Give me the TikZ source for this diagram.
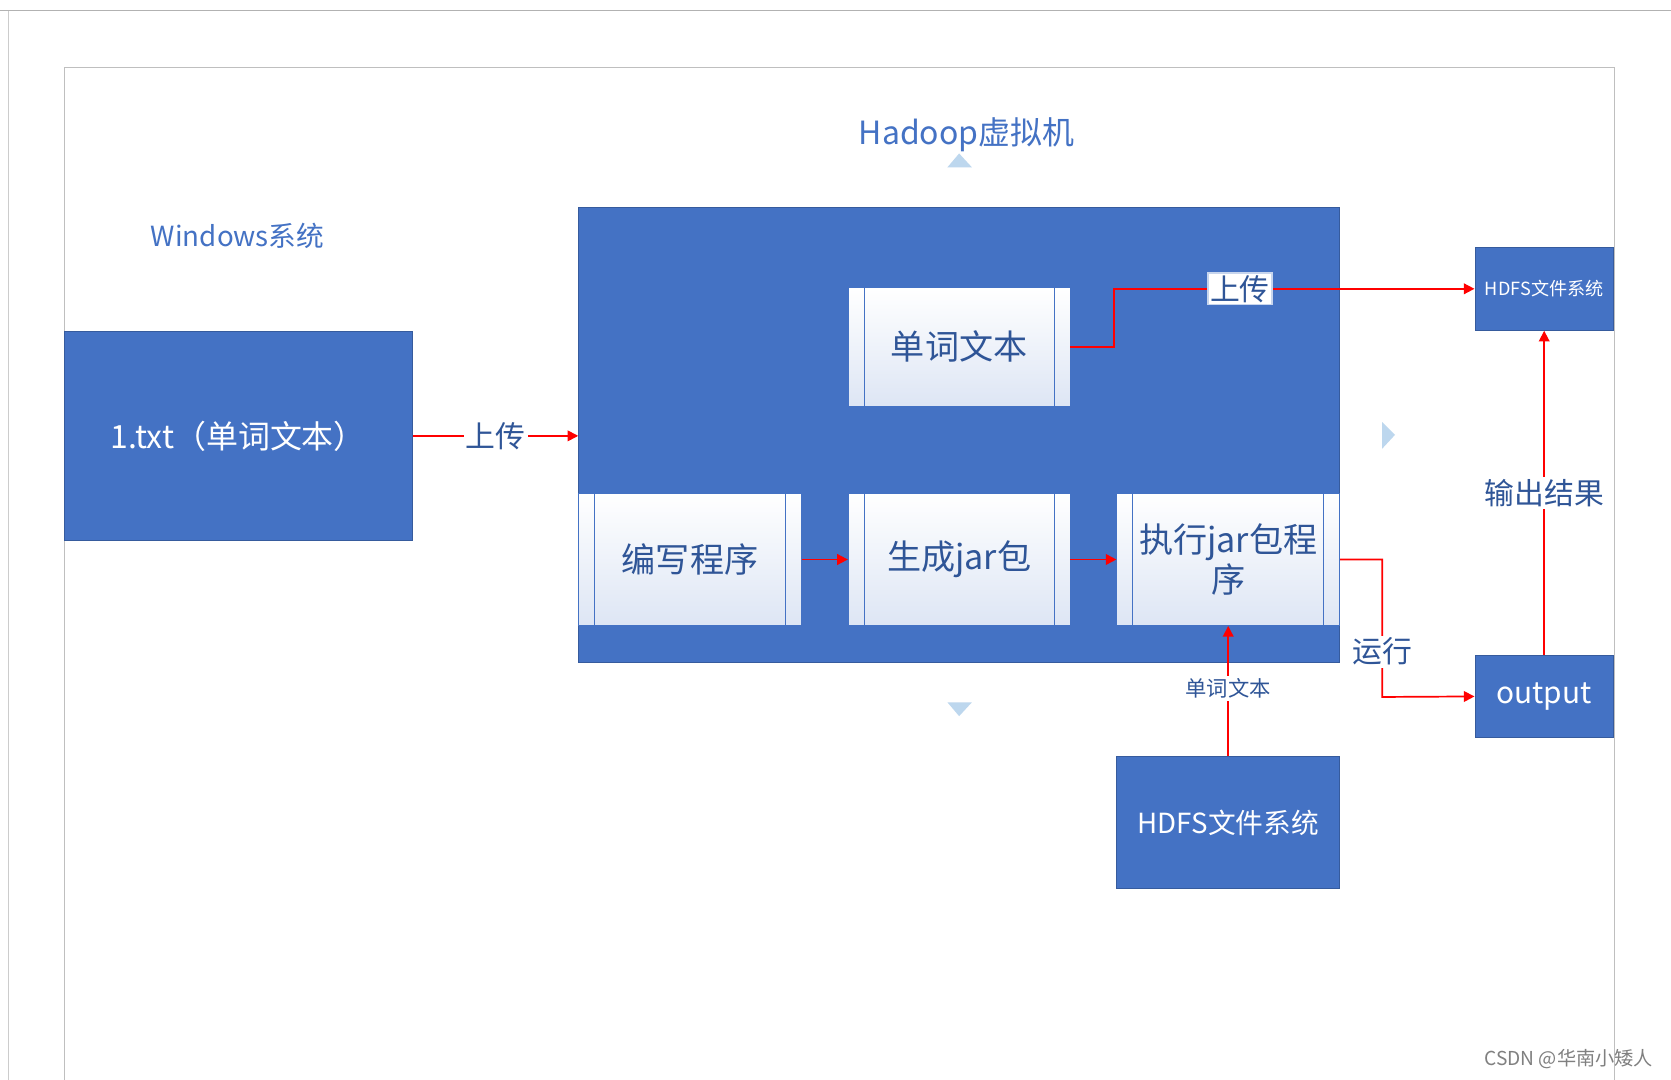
\documentclass[tikz,border=0pt]{standalone}
\usepackage{fontspec}
\setmainfont{Noto Sans CJK SC}
\usetikzlibrary{arrows.meta}
\definecolor{bl}{HTML}{4472C4}
\definecolor{tx}{HTML}{2F5597}
\definecolor{lb}{HTML}{BDD7EE}
\begin{document}
\begin{tikzpicture}[x=0.5pt,y=-0.5pt,
  blk/.style={draw=bl!80!black,fill=bl,text=white,inner sep=0,line width=0.4pt},
  proc/.style={draw=bl,top color=white,bottom color=bl!18,text=tx,inner sep=0,font=\fontsize{16}{19}\selectfont,align=center,
    path picture={\draw[bl] ([xshift=7.5pt]path picture bounding box.north west)--([xshift=7.5pt]path picture bounding box.south west);
      \draw[bl] ([xshift=-7.5pt]path picture bounding box.north east)--([xshift=-7.5pt]path picture bounding box.south east);}},
  arr/.style={red,line width=0.8pt,-{Triangle[length=5pt,width=5pt]}},
  lab/.style={fill=white,text=tx,inner sep=1pt},
  tri/.style={fill=lb,draw=none}]
\useasboundingbox (0,0) rectangle (1568,1013);
\fill[white] (0,0) rectangle (1568,1013);
\draw[gray!60] (0,10)--(1568,10);
\draw[gray!40] (8,10)--(8,1013);
\draw[gray!50] (60,1013)--(60,63)--(1515,63)--(1515,1013);
\node[text=bl,font=\fontsize{15}{18}\selectfont] (title) at (907,126) {Hadoop虚拟机};
\node[text=bl,font=\fontsize{13}{16}\selectfont] (win) at (223,221) {Windows系统};
\fill[tri] (889,157)--(912,157)--(900,144)--cycle;
\fill[tri] (889,659)--(912,659)--(900,672)--cycle;
\fill[tri] (1297,396)--(1297,421)--(1309,408)--cycle;
\node[blk,minimum width=357pt,minimum height=213.5pt] (vm) at (900,408.5) {};
\node[blk,minimum width=163.5pt,minimum height=98pt,font=\fontsize{15}{18}\selectfont] (txt) at (223.5,409) {1.txt（单词文本）};
\node[proc,minimum width=104pt,minimum height=55.5pt] (dc) at (900,325.5) {单词文本};
\node[proc,minimum width=104.5pt,minimum height=62pt] (bx) at (647.5,525) {编写程序};
\node[proc,minimum width=104pt,minimum height=62pt] (sc) at (900,525) {生成jar包};
\node[proc,minimum width=104.5pt,minimum height=62pt] (zx) at (1152.5,525) {执行jar包程\\序};
\node[blk,minimum width=65pt,minimum height=39pt,font=\fontsize{8.5}{10}\selectfont] (h1) at (1449,271) {HDFS文件系统};
\node[blk,minimum width=65pt,minimum height=38.5pt,font=\fontsize{14}{17}\selectfont] (out) at (1449,653.5) {output};
\node[blk,minimum width=104.5pt,minimum height=62pt,font=\fontsize{13}{16}\selectfont] (h2) at (1152.5,772) {HDFS文件系统};
\draw[arr] (txt.east) -- node[lab,font=\fontsize{14}{17}\selectfont]{上传} (vm.west|-txt.east);
\draw[arr] (dc.east) -- (1045,325.5) -- (1045,271) -- node[pos=0.35,lab,font=\fontsize{14}{17}\selectfont,draw=bl!30]{上传} (h1.west);
\draw[arr] (bx.east) -- (sc.west);
\draw[arr] (sc.east) -- (zx.west);
\draw[arr] (zx.east) -- (1297,525) -- node[pos=0.67,lab]{\fontsize{14}{17}\selectfont 运行} (1297,654) -- (out.west);
\draw[arr] (h2.north) -- node[pos=0.52,lab,font=\fontsize{10}{12}\selectfont]{单词文本} (zx.south);
\draw[arr] (out.north) -- node[pos=0.5,lab,font=\fontsize{14}{17}\selectfont]{输出结果} (h1.south);
\node[text=gray,font=\fontsize{9}{11}\selectfont] (wm) at (1472,994) {CSDN @华南小矮人};
\end{tikzpicture}
\end{document}
